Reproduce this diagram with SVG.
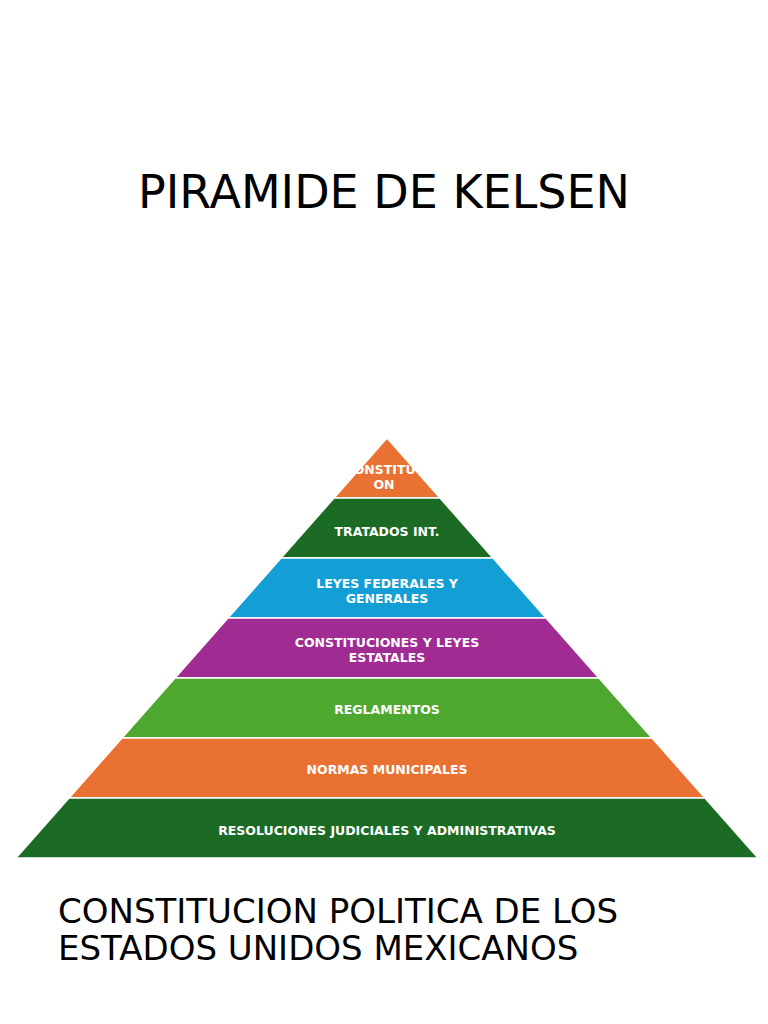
<svg xmlns="http://www.w3.org/2000/svg" width="768" height="1024" viewBox="0 0 768 1024">
<style>
.t{font-family:"DejaVu Sans",sans-serif;fill:#000}
.l{font-family:"DejaVu Sans",sans-serif;font-weight:bold;font-size:12.5px;fill:#fff;text-anchor:middle}
.b{stroke:#fff;stroke-width:1.5}
</style>
<defs><clipPath id="c1"><polygon points="387,438 440,498 334,498"/></clipPath></defs>
<rect width="768" height="1024" fill="#fff"/>
<text class="t" x="384" y="208" font-size="46" text-anchor="middle">PIRAMIDE DE KELSEN</text>
<g id="n1"><polygon class="b" points="387,438 440,498 334,498" fill="#E97132"/>
<g clip-path="url(#c1)"><text class="l" x="387" y="474">CONSTITUCI</text><text class="l" x="384" y="489">ON</text></g></g>
<g id="n2"><polygon class="b" points="334,498 440,498 493,558 281,558" fill="#1B6B24"/><text class="l" x="387" y="536">TRATADOS INT.</text></g>
<g id="n3"><polygon class="b" points="281,558 493,558 546,618 228,618" fill="#139FD6"/><text class="l" x="387" y="588">LEYES FEDERALES Y</text><text class="l" x="387" y="603">GENERALES</text></g>
<g id="n4"><polygon class="b" points="228,618 546,618 599,678 175,678" fill="#A02B93"/><text class="l" x="387" y="647">CONSTITUCIONES Y LEYES</text><text class="l" x="387" y="662">ESTATALES</text></g>
<g id="n5"><polygon class="b" points="175,678 599,678 652,738 122,738" fill="#4EA72E"/><text class="l" x="387" y="714">REGLAMENTOS</text></g>
<g id="n6"><polygon class="b" points="122,738 652,738 705,798 69,798" fill="#E97132"/><text class="l" x="387" y="774">NORMAS MUNICIPALES</text></g>
<g id="n7"><polygon class="b" points="69,798 705,798 758,858 16,858" fill="#1B6B24"/><text class="l" x="387" y="835">RESOLUCIONES JUDICIALES Y ADMINISTRATIVAS</text></g>
<text class="t" x="58" y="923" font-size="34">CONSTITUCION POLITICA DE LOS</text>
<text class="t" x="58" y="960" font-size="34">ESTADOS UNIDOS MEXICANOS</text>
</svg>
